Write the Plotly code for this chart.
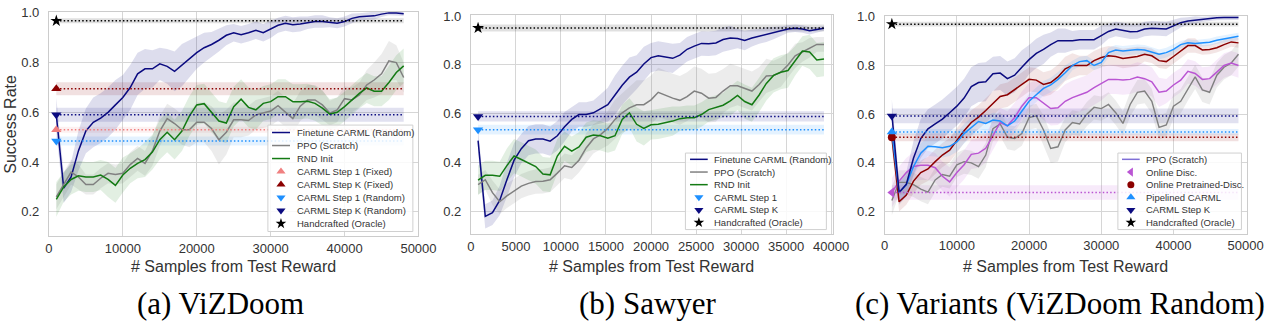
import plotly.graph_objects as go

W, H = 1284, 323

# ---------------- (a) ViZDoom ----------------
a_x = [1000, 2000, 3000, 4000, 5000, 6000, 7000, 8000, 9000, 10000,
       11000, 12000, 13000, 14000, 15000, 16000, 17000, 18000, 19000, 20000,
       21000, 22000, 23000, 24000, 25000, 26000, 27000, 28000, 29000, 30000,
       31000, 32000, 33000, 34000, 35000, 36000, 37000, 38000, 39000, 40000,
       41000, 42000, 43000, 44000, 45000, 46000, 47000, 48000]
a_finetune = [0.59, 0.295, 0.34, 0.446, 0.525, 0.56, 0.577, 0.60, 0.63, 0.66,
              0.70, 0.755, 0.775, 0.775, 0.795, 0.785, 0.765, 0.79, 0.815, 0.84,
              0.86, 0.873, 0.89, 0.91, 0.92, 0.912, 0.92, 0.93, 0.92, 0.934,
              0.95, 0.958, 0.952, 0.955, 0.96, 0.965, 0.965, 0.962, 0.958, 0.965,
              0.978, 0.984, 0.987, 0.988, 0.995, 1.0, 1.0, 0.997]
a_finetune_sd = [0.07, 0.06, 0.06, 0.08, 0.09, 0.10, 0.10, 0.10, 0.10, 0.09,
                 0.09, 0.085, 0.08, 0.075, 0.065, 0.07, 0.08, 0.085, 0.075, 0.065,
                 0.06, 0.05, 0.045, 0.04, 0.035, 0.035, 0.035, 0.035, 0.035, 0.035,
                 0.03, 0.03, 0.03, 0.03, 0.025, 0.025, 0.025, 0.02, 0.02, 0.02,
                 0.02, 0.015, 0.015, 0.015, 0.012, 0.01, 0.01, 0.01]
a_ppo = [0.26, 0.31, 0.36, 0.34, 0.31, 0.31, 0.335, 0.355, 0.35, 0.355,
         0.39, 0.415, 0.395, 0.445, 0.525, 0.575, 0.555, 0.53, 0.53, 0.56,
         0.56, 0.535, 0.49, 0.52, 0.57, 0.57, 0.567, 0.59, 0.597, 0.605,
         0.627, 0.60, 0.575, 0.625, 0.65, 0.65, 0.63, 0.597, 0.61, 0.655,
         0.65, 0.67, 0.71, 0.73, 0.755, 0.807, 0.80, 0.74]
a_ppo_sd = [0.05, 0.05, 0.05, 0.05, 0.04, 0.04, 0.04, 0.04, 0.04, 0.04,
            0.05, 0.05, 0.05, 0.06, 0.06, 0.06, 0.06, 0.06, 0.07, 0.08,
            0.08, 0.09, 0.10, 0.09, 0.07, 0.07, 0.06, 0.06, 0.06, 0.06,
            0.06, 0.06, 0.06, 0.06, 0.06, 0.06, 0.06, 0.05, 0.05, 0.05,
            0.05, 0.05, 0.06, 0.07, 0.08, 0.08, 0.07, 0.06]
a_rnd = [0.25, 0.30, 0.33, 0.345, 0.34, 0.34, 0.348, 0.33, 0.306, 0.348,
         0.375, 0.395, 0.41, 0.44, 0.49, 0.52, 0.49, 0.525, 0.585, 0.63,
         0.635, 0.60, 0.565, 0.557, 0.623, 0.653, 0.62, 0.61, 0.636, 0.643,
         0.663, 0.663, 0.643, 0.643, 0.645, 0.636, 0.617, 0.593, 0.60, 0.623,
         0.65, 0.676, 0.698, 0.685, 0.685, 0.72, 0.76, 0.787]
a_rnd_sd = [0.07, 0.06, 0.06, 0.06, 0.06, 0.06, 0.06, 0.07, 0.07, 0.07,
            0.06, 0.06, 0.07, 0.07, 0.08, 0.08, 0.08, 0.08, 0.08, 0.08,
            0.08, 0.08, 0.08, 0.08, 0.08, 0.08, 0.08, 0.08, 0.07, 0.07,
            0.07, 0.07, 0.07, 0.07, 0.07, 0.07, 0.07, 0.06, 0.06, 0.06,
            0.06, 0.06, 0.06, 0.06, 0.06, 0.07, 0.07, 0.07]
a_ref_names = ["CARML Step 1 (Fixed)", "CARML Step K (Fixed)", "CARML Step 1 (Random)",
               "CARML Step K (Random)", "Handcrafted (Oracle)"]
a_ref_vals = [0.53, 0.695, 0.485, 0.59, 0.968]
a_ref_sd = [0.012, 0.026, 0.018, 0.028, 0.01]
a_ref_span = [1000, 48000]

# ---------------- (b) Sawyer ----------------
b_x = [800, 1600, 2400, 3200, 4000, 4800, 5600, 6400, 7200, 8000,
       8800, 9600, 10400, 11200, 12000, 12800, 13600, 14400, 15200, 16000,
       16800, 17600, 18400, 19200, 20000, 20800, 21600, 22400, 23200, 24000,
       24800, 25600, 26400, 27200, 28000, 28800, 29600, 30400, 31200, 32000,
       32800, 33600, 34400, 35200, 36000, 36800, 37600, 38400, 39200]
b_finetune = [0.49, 0.18, 0.195, 0.245, 0.33, 0.41, 0.457, 0.49, 0.497, 0.497,
              0.488, 0.51, 0.547, 0.577, 0.597, 0.597, 0.604, 0.62, 0.637, 0.677,
              0.717, 0.75, 0.77, 0.804, 0.83, 0.837, 0.833, 0.827, 0.84, 0.864,
              0.877, 0.888, 0.887, 0.89, 0.904, 0.91, 0.908, 0.90, 0.91, 0.917,
              0.924, 0.93, 0.937, 0.947, 0.95, 0.947, 0.94, 0.944, 0.95]
b_finetune_sd = [0.05, 0.05, 0.05, 0.06, 0.07, 0.07, 0.06, 0.06, 0.06, 0.06,
                 0.06, 0.06, 0.06, 0.05, 0.05, 0.05, 0.05, 0.06, 0.07, 0.08,
                 0.08, 0.08, 0.07, 0.07, 0.06, 0.06, 0.06, 0.06, 0.05, 0.05,
                 0.05, 0.05, 0.05, 0.05, 0.05, 0.05, 0.04, 0.04, 0.035, 0.03,
                 0.03, 0.025, 0.02, 0.015, 0.015, 0.015, 0.015, 0.01, 0.01]
b_ppo = [0.31, 0.33, 0.277, 0.24, 0.264, 0.284, 0.304, 0.315, 0.323, 0.324,
         0.33, 0.357, 0.387, 0.38, 0.41, 0.46, 0.497, 0.515, 0.54, 0.577,
         0.604, 0.624, 0.637, 0.637, 0.657, 0.688, 0.675, 0.664, 0.655, 0.67,
         0.693, 0.684, 0.664, 0.667, 0.693, 0.715, 0.715, 0.704, 0.693, 0.72,
         0.755, 0.757, 0.77, 0.80, 0.837, 0.853, 0.87, 0.884, 0.884]
b_ppo_sd = [0.04, 0.04, 0.05, 0.05, 0.05, 0.05, 0.05, 0.05, 0.05, 0.05,
            0.05, 0.05, 0.05, 0.05, 0.05, 0.06, 0.06, 0.06, 0.07, 0.08,
            0.08, 0.09, 0.10, 0.10, 0.10, 0.10, 0.10, 0.10, 0.10, 0.10,
            0.10, 0.10, 0.10, 0.10, 0.09, 0.09, 0.08, 0.08, 0.08, 0.07,
            0.07, 0.06, 0.06, 0.05, 0.05, 0.04, 0.04, 0.03, 0.03]
b_rnd = [0.328, 0.348, 0.348, 0.344, 0.388, 0.427, 0.413, 0.40, 0.384, 0.353,
         0.35, 0.427, 0.467, 0.447, 0.464, 0.504, 0.513, 0.51, 0.50, 0.51,
         0.577, 0.604, 0.557, 0.54, 0.555, 0.557, 0.563, 0.57, 0.58, 0.584,
         0.584, 0.597, 0.617, 0.627, 0.635, 0.653, 0.675, 0.65, 0.637, 0.677,
         0.724, 0.757, 0.77, 0.777, 0.817, 0.857, 0.853, 0.82, 0.824]
b_rnd_sd = [0.06, 0.06, 0.06, 0.06, 0.07, 0.07, 0.07, 0.07, 0.07, 0.07,
            0.07, 0.07, 0.06, 0.06, 0.06, 0.06, 0.06, 0.06, 0.06, 0.06,
            0.06, 0.06, 0.07, 0.07, 0.06, 0.06, 0.06, 0.06, 0.05, 0.05,
            0.05, 0.05, 0.05, 0.05, 0.05, 0.06, 0.06, 0.07, 0.07, 0.07,
            0.07, 0.07, 0.07, 0.07, 0.06, 0.06, 0.07, 0.07, 0.07]
b_ref_names = ["CARML Step 1", "CARML Step K", "Handcrafted (Oracle)"]
b_ref_vals = [0.535, 0.589, 0.951]
b_ref_sd = [0.02, 0.021, 0.014]
b_ref_span = [800, 39200]

# ---------------- (c) Variants (ViZDoom Random) ----------------
c_x = [1000, 2000, 3000, 4000, 5000, 6000, 7000, 8000, 9000, 10000,
       11000, 12000, 13000, 14000, 15000, 16000, 17000, 18000, 19000, 20000,
       21000, 22000, 23000, 24000, 25000, 26000, 27000, 28000, 29000, 30000,
       31000, 32000, 33000, 34000, 35000, 36000, 37000, 38000, 39000, 40000,
       41000, 42000, 43000, 44000, 45000, 46000, 47000, 48000, 49000]
c_stepk = [0.60, 0.278, 0.312, 0.42, 0.50, 0.54, 0.56, 0.58, 0.606, 0.633,
           0.666, 0.713, 0.73, 0.733, 0.766, 0.769, 0.746, 0.76, 0.793, 0.824,
           0.85, 0.866, 0.886, 0.902, 0.902, 0.902, 0.906, 0.906, 0.906, 0.923,
           0.94, 0.95, 0.946, 0.939, 0.94, 0.95, 0.953, 0.952, 0.95, 0.963,
           0.976, 0.983, 0.987, 0.99, 0.993, 0.996, 0.997, 0.997, 0.997]
c_stepk_sd = [0.06, 0.05, 0.05, 0.07, 0.08, 0.08, 0.08, 0.08, 0.08, 0.08,
              0.08, 0.08, 0.08, 0.08, 0.07, 0.07, 0.07, 0.07, 0.07, 0.06,
              0.06, 0.06, 0.05, 0.05, 0.05, 0.04, 0.04, 0.04, 0.04, 0.04,
              0.03, 0.03, 0.03, 0.03, 0.03, 0.03, 0.03, 0.03, 0.03, 0.025,
              0.02, 0.015, 0.015, 0.01, 0.01, 0.01, 0.01, 0.01, 0.01]
c_pipe = [0.525, 0.278, 0.31, 0.385, 0.44, 0.468, 0.466, 0.462, 0.468, 0.486,
          0.52, 0.546, 0.57, 0.562, 0.576, 0.572, 0.552, 0.572, 0.613, 0.653,
          0.68, 0.706, 0.72, 0.743, 0.77, 0.80, 0.816, 0.82, 0.80, 0.813,
          0.853, 0.864, 0.86, 0.862, 0.866, 0.864, 0.856, 0.846, 0.853, 0.866,
          0.886, 0.893, 0.89, 0.893, 0.896, 0.904, 0.91, 0.916, 0.92]
c_pipe_sd = [0.04, 0.04, 0.04, 0.04, 0.04, 0.04, 0.04, 0.04, 0.04, 0.04,
             0.04, 0.04, 0.03, 0.03, 0.03, 0.03, 0.03, 0.03, 0.03, 0.03,
             0.03, 0.03, 0.03, 0.03, 0.03, 0.02, 0.02, 0.02, 0.02, 0.02,
             0.02, 0.02, 0.02, 0.02, 0.02, 0.02, 0.02, 0.02, 0.02, 0.02,
             0.015, 0.015, 0.015, 0.015, 0.015, 0.015, 0.015, 0.015, 0.015]
c_pre = [0.505, 0.24, 0.268, 0.325, 0.36, 0.375, 0.405, 0.432, 0.452, 0.492,
         0.532, 0.566, 0.588, 0.615, 0.642, 0.673, 0.68, 0.70, 0.72, 0.743,
         0.74, 0.722, 0.73, 0.753, 0.786, 0.80, 0.80, 0.80, 0.82, 0.833,
         0.84, 0.837, 0.829, 0.833, 0.837, 0.846, 0.84, 0.82, 0.816, 0.837,
         0.86, 0.882, 0.882, 0.864, 0.866, 0.873, 0.886, 0.897, 0.893]
c_pre_sd = [0.05, 0.04, 0.04, 0.05, 0.05, 0.05, 0.05, 0.05, 0.05, 0.05,
            0.05, 0.05, 0.05, 0.05, 0.05, 0.05, 0.05, 0.05, 0.05, 0.05,
            0.05, 0.05, 0.05, 0.05, 0.05, 0.05, 0.04, 0.04, 0.04, 0.04,
            0.04, 0.04, 0.04, 0.04, 0.04, 0.03, 0.03, 0.03, 0.03, 0.03,
            0.03, 0.03, 0.03, 0.02, 0.02, 0.02, 0.02, 0.02, 0.02]
c_online = [0.278, 0.325, 0.36, 0.385, 0.39, 0.39, 0.38, 0.345, 0.322, 0.36,
            0.392, 0.435, 0.44, 0.46, 0.512, 0.566, 0.552, 0.586, 0.633, 0.668,
            0.668, 0.646, 0.623, 0.626, 0.653, 0.668, 0.68, 0.69, 0.709, 0.726,
            0.743, 0.743, 0.74, 0.743, 0.753, 0.746, 0.733, 0.69, 0.695, 0.72,
            0.74, 0.776, 0.767, 0.743, 0.746, 0.773, 0.80, 0.81, 0.80]
c_online_sd = [0.06, 0.06, 0.06, 0.06, 0.06, 0.06, 0.06, 0.06, 0.06, 0.06,
               0.06, 0.06, 0.06, 0.06, 0.06, 0.06, 0.06, 0.06, 0.06, 0.06,
               0.07, 0.07, 0.07, 0.07, 0.07, 0.07, 0.07, 0.07, 0.07, 0.07,
               0.06, 0.06, 0.06, 0.06, 0.06, 0.06, 0.06, 0.06, 0.05, 0.05,
               0.05, 0.05, 0.05, 0.05, 0.05, 0.05, 0.05, 0.05, 0.05]
c_ppo = [0.245, 0.32, 0.32, 0.31, 0.292, 0.28, 0.33, 0.352, 0.345, 0.392,
         0.405, 0.40, 0.385, 0.432, 0.54, 0.56, 0.506, 0.50, 0.52, 0.586,
         0.593, 0.535, 0.459, 0.466, 0.535, 0.566, 0.56, 0.60, 0.628, 0.623,
         0.64, 0.606, 0.562, 0.64, 0.69, 0.695, 0.653, 0.546, 0.556, 0.633,
         0.653, 0.706, 0.753, 0.70, 0.69, 0.76, 0.793, 0.81, 0.846]
c_ppo_sd = [0.06, 0.05, 0.05, 0.05, 0.05, 0.05, 0.05, 0.05, 0.05, 0.05,
            0.05, 0.05, 0.05, 0.05, 0.05, 0.05, 0.05, 0.05, 0.05, 0.05,
            0.05, 0.06, 0.06, 0.06, 0.05, 0.05, 0.05, 0.05, 0.05, 0.05,
            0.05, 0.05, 0.05, 0.05, 0.05, 0.05, 0.05, 0.05, 0.05, 0.05,
            0.05, 0.05, 0.05, 0.05, 0.05, 0.05, 0.05, 0.05, 0.05]
c_ref_names = ["Online Disc.", "Online Pretrained-Disc.", "Pipelined CARML",
               "CARML Step K", "Handcrafted (Oracle)"]
c_ref_vals = [0.278, 0.505, 0.527, 0.593, 0.97]
c_ref_sd = [0.03, 0.016, 0.012, 0.03, 0.01]
c_ref_span = [1000, 49000]

x_tick_a = [0, 10000, 20000, 30000, 40000, 50000]
x_tick_b = [0, 5000, 10000, 15000, 20000, 25000, 30000, 35000, 40000]
x_tick_c = [0, 10000, 20000, 30000, 40000, 50000]
y_ticks = [0.2, 0.4, 0.6, 0.8, 1.0]

# ---------------- styles ----------------
NAVY = "#0b0b80"
GRAY = "#808080"
GREEN = "#137a13"
LCORAL = "#f08080"
DRED = "#8b0000"
DBLUE = "#1e90ff"
ORCHID = "#ba55d3"
SANS = "Liberation Sans, Arial, sans-serif"
SERIF = "Liberation Serif, Times New Roman, serif"
TXT = "#333333"

ref_style = {
    "CARML Step 1 (Fixed)": (LCORAL, "triangle-up", 9),
    "CARML Step K (Fixed)": (DRED, "triangle-up", 9),
    "CARML Step 1 (Random)": (DBLUE, "triangle-down", 9),
    "CARML Step K (Random)": (NAVY, "triangle-down", 9),
    "CARML Step 1": (DBLUE, "triangle-down", 9),
    "CARML Step K": (NAVY, "triangle-down", 9),
    "Handcrafted (Oracle)": ("#000000", "star", 9),
    "Online Disc.": (ORCHID, "triangle-left", 9),
    "Online Pretrained-Disc.": (DRED, "circle", 8),
    "Pipelined CARML": (DBLUE, "triangle-up", 9),
}


def rgba(hexc, a):
    h = hexc.lstrip("#")
    r, g, b = int(h[0:2], 16), int(h[2:4], 16), int(h[4:6], 16)
    return f"rgba({r},{g},{b},{a})"


fig = go.Figure()


def add_band(xa, ya, xs, mean, sd, color, alpha):
    up = [m + s for m, s in zip(mean, sd)]
    lo = [m - s for m, s in zip(mean, sd)]
    fig.add_trace(go.Scatter(x=list(xs) + list(xs)[::-1], y=up + lo[::-1],
                             fill="toself", fillcolor=rgba(color, alpha),
                             line=dict(width=0), mode="lines", hoverinfo="skip",
                             showlegend=False, xaxis=xa, yaxis=ya))


def add_line(xa, ya, xs, ys, color, width=1.5):
    fig.add_trace(go.Scatter(x=xs, y=ys, mode="lines",
                             line=dict(color=color, width=width),
                             showlegend=False, xaxis=xa, yaxis=ya))


def add_refs(xa, ya, names, vals, sds, span, phase):
    x0, x1 = span
    for n, v, s in zip(names, vals, sds):
        col, sym, sz = ref_style[n]
        if phase == "band":
            fig.add_trace(go.Scatter(x=[x0, x1, x1, x0], y=[v + s, v + s, v - s, v - s],
                                     fill="toself", fillcolor=rgba(col, 0.12),
                                     line=dict(width=0), mode="lines", hoverinfo="skip",
                                     showlegend=False, xaxis=xa, yaxis=ya))
        else:
            fig.add_trace(go.Scatter(x=[x0, x1], y=[v, v], mode="lines",
                                     line=dict(color=col, width=1.5, dash="1.5px,2.2px"),
                                     showlegend=False, xaxis=xa, yaxis=ya))
            fig.add_trace(go.Scatter(x=[x0], y=[v], mode="markers",
                                     marker=dict(color=col, symbol=sym, size=sz,
                                                 line=dict(width=0)),
                                     showlegend=False, xaxis=xa, yaxis=ya))


# panel a
add_refs("x", "y", a_ref_names, a_ref_vals, a_ref_sd, a_ref_span, "band")
add_band("x", "y", a_x, a_finetune, a_finetune_sd, NAVY, 0.14)
add_band("x", "y", a_x, a_ppo, a_ppo_sd, GRAY, 0.15)
add_band("x", "y", a_x, a_rnd, a_rnd_sd, GREEN, 0.12)
add_line("x", "y", a_x, a_finetune, NAVY)
add_line("x", "y", a_x, a_ppo, GRAY)
add_line("x", "y", a_x, a_rnd, GREEN)
add_refs("x", "y", a_ref_names, a_ref_vals, a_ref_sd, a_ref_span, "line")

# panel b
add_refs("x2", "y2", b_ref_names, b_ref_vals, b_ref_sd, b_ref_span, "band")
add_band("x2", "y2", b_x, b_finetune, b_finetune_sd, NAVY, 0.14)
add_band("x2", "y2", b_x, b_ppo, b_ppo_sd, GRAY, 0.15)
add_band("x2", "y2", b_x, b_rnd, b_rnd_sd, GREEN, 0.12)
add_line("x2", "y2", b_x, b_finetune, NAVY)
add_line("x2", "y2", b_x, b_ppo, GRAY)
add_line("x2", "y2", b_x, b_rnd, GREEN)
add_refs("x2", "y2", b_ref_names, b_ref_vals, b_ref_sd, b_ref_span, "line")

# panel c
add_refs("x3", "y3", c_ref_names, c_ref_vals, c_ref_sd, c_ref_span, "band")
add_band("x3", "y3", c_x, c_stepk, c_stepk_sd, NAVY, 0.14)
add_band("x3", "y3", c_x, c_pre, c_pre_sd, DRED, 0.10)
add_band("x3", "y3", c_x, c_pipe, c_pipe_sd, DBLUE, 0.12)
add_band("x3", "y3", c_x, c_online, c_online_sd, ORCHID, 0.12)
add_band("x3", "y3", c_x, c_ppo, c_ppo_sd, GRAY, 0.15)
add_line("x3", "y3", c_x, c_ppo, GRAY, 1.4)
add_line("x3", "y3", c_x, c_online, ORCHID)
add_line("x3", "y3", c_x, c_pre, DRED)
add_line("x3", "y3", c_x, c_pipe, DBLUE)
add_line("x3", "y3", c_x, c_stepk, NAVY)
add_refs("x3", "y3", c_ref_names, c_ref_vals, c_ref_sd, c_ref_span, "line")

# ---------------- legends (drawn on a full-page pixel overlay) ----------------
annotations = []


def draw_legend(box, rows_y, line_x, marker_x, text_x, entries):
    l, t, r, b = box
    fig.add_trace(go.Scatter(x=[l, r, r, l, l], y=[t, t, b, b, t], mode="lines",
                             fill="toself", fillcolor="rgba(255,255,255,0.85)",
                             line=dict(color="#d0d0d0", width=1),
                             hoverinfo="skip", showlegend=False, xaxis="x4", yaxis="y4"))
    for yy, (label, kind, col, sym, sz) in zip(rows_y, entries):
        if kind == "line":
            fig.add_trace(go.Scatter(x=list(line_x), y=[yy, yy], mode="lines",
                                     line=dict(color=col, width=1.5), hoverinfo="skip",
                                     showlegend=False, xaxis="x4", yaxis="y4"))
        else:
            fig.add_trace(go.Scatter(x=[marker_x], y=[yy], mode="markers",
                                     marker=dict(color=col, symbol=sym, size=sz - 1,
                                                 line=dict(width=0)),
                                     hoverinfo="skip", showlegend=False,
                                     xaxis="x4", yaxis="y4"))
        annotations.append(dict(x=text_x, y=yy, xref="x4", yref="y4", text=label,
                                showarrow=False, xanchor="left", yanchor="middle",
                                borderpad=0,
                                font=dict(family=SANS, size=9.5, color=TXT)))


def ref_entry(n):
    col, sym, sz = ref_style[n]
    return (n, "marker", col, sym, sz)


leg_a = [("Finetune CARML (Random)", "line", NAVY, None, 0),
         ("PPO (Scratch)", "line", GRAY, None, 0),
         ("RND Init", "line", GREEN, None, 0)] + [ref_entry(n) for n in a_ref_names]
draw_legend((268.5, 120.7, 416, 229.5),
            [128.3, 141.6, 154.9, 168.2, 181.5, 194.8, 208.1, 221.4],
            (272.7, 291), 281.8, 297, leg_a)

leg_b = [("Finetune CARML (Random)", "line", NAVY, None, 0),
         ("PPO (Scratch)", "line", GRAY, None, 0),
         ("RND Init", "line", GREEN, None, 0)] + [ref_entry(n) for n in b_ref_names]
draw_legend((693.3, 149.3, 836.7, 227.5),
            [155.7, 168.7, 181.6, 194.5, 207.4, 220.3],
            (698, 716), 707, 721, leg_b)

leg_c = [("PPO (Scratch)", "line", "#7f6fd6", None, 0)] + \
        [ref_entry(n) for n in ["Online Disc.", "Online Pretrained-Disc.", "Pipelined CARML",
                                "CARML Step K", "Handcrafted (Oracle)"]]
draw_legend((1133.3, 149.3, 1259, 227.5),
            [155.7, 168.7, 181.6, 194.5, 207.4, 220.3],
            (1137.5, 1155.5), 1146.5, 1161.2, leg_c)

# ---------------- axes ----------------
def px_dom_x(a, b):
    return [a / W, b / W]


def px_dom_y(top, bottom):
    return [1 - bottom / H, 1 - top / H]


common_x = dict(showgrid=True, gridcolor="#d6d6d6", gridwidth=1, zeroline=False,
                showline=True, mirror=True, linecolor="#cccccc", linewidth=1,
                ticks="", tickfont=dict(family=SANS, size=13, color=TXT),
                tickformat="d", ticklabelstandoff=0)
common_y = dict(showgrid=True, gridcolor="#d6d6d6", gridwidth=1, zeroline=False,
                showline=True, mirror=True, linecolor="#cccccc", linewidth=1,
                ticks="", tickfont=dict(family=SANS, size=13, color=TXT),
                tickformat=".1f", tickvals=y_ticks, ticklabelstandoff=6)

layout = dict(
    width=W, height=H, margin=dict(l=0, r=0, t=0, b=0),
    paper_bgcolor="white", plot_bgcolor="rgba(0,0,0,0)", showlegend=False,
    xaxis=dict(common_x, domain=px_dom_x(45.7, 421.7), range=[0, 50000],
               tickvals=x_tick_a, anchor="y"),
    yaxis=dict(common_y, domain=px_dom_y(5, 234), range=[0.103, 1.004], anchor="x"),
    xaxis2=dict(common_x, domain=px_dom_x(475, 843), range=[0, 40150],
                tickvals=x_tick_b, anchor="y2"),
    yaxis2=dict(common_y, domain=px_dom_y(8.5, 232.5), range=[0.106, 1.003], anchor="x2"),
    xaxis3=dict(common_x, domain=px_dom_x(896, 1264.3), range=[0, 50130],
                tickvals=x_tick_c, anchor="y3"),
    yaxis3=dict(common_y, domain=px_dom_y(9.3, 231.7), range=[0.109, 1.003], anchor="x3"),
    xaxis4=dict(domain=[0, 1], range=[0, W], visible=False, fixedrange=True, anchor="y4"),
    yaxis4=dict(domain=[0, 1], range=[H, 0], visible=False, fixedrange=True, anchor="x4"),
)

# axis titles and captions
for cx in [(45.7 + 421.7) / 2, (475 + 843) / 2, (896 + 1264.3) / 2]:
    annotations.append(dict(x=cx / W, y=1 - 265 / H, xref="paper", yref="paper",
                            text="# Samples from Test Reward", showarrow=False,
                            xanchor="center", yanchor="middle",
                            font=dict(family=SANS, size=16, color=TXT)))
annotations.append(dict(x=7 / W, y=1 - 119.5 / H, xref="paper", yref="paper",
                        text="Success Rate", showarrow=False, textangle=-90,
                        xanchor="center", yanchor="middle",
                        font=dict(family=SANS, size=16, color=TXT)))
for cx, cap in [(220, "(a) ViZDoom"), (655, "(b) Sawyer"),
                (1074, "(c) Variants (ViZDoom Random)")]:
    annotations.append(dict(x=cx / W, y=1 - 303.5 / H, xref="paper", yref="paper",
                            text=cap, showarrow=False, xanchor="center", yanchor="middle",
                            font=dict(family=SERIF, size=31, color="black")))

layout["annotations"] = annotations
fig.update_layout(**layout)
fig.write_html("out.html", config={"displayModeBar": False},
               post_script="document.body.style.margin='0px';document.body.style.padding='0px';")
